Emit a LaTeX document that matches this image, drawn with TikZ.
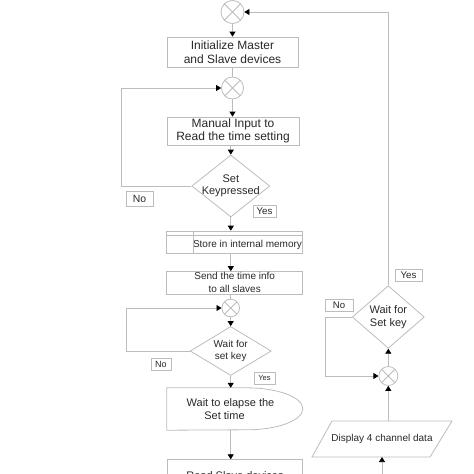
\documentclass[tikz,border=0pt]{standalone}
\usepackage{fontspec}
\setmainfont{Liberation Sans}
\usetikzlibrary{arrows.meta,shapes.geometric}
\definecolor{lc}{RGB}{188,188,188}
\definecolor{tc}{RGB}{40,40,40}
\begin{document}
\begin{tikzpicture}[x=1pt,y=-1pt,
  line/.style={draw=lc,line width=0.8pt},
  arr/.style={draw=lc,line width=0.8pt,-{Triangle[width=6pt,length=5pt,color=black]}},
  box/.style={draw=lc,line width=0.8pt,rectangle,inner sep=0pt,text=tc,align=center},
  xcirc/.style={circle,draw=lc,line width=0.8pt,inner sep=0pt,
    path picture={\draw[lc,line width=0.8pt] (path picture bounding box.south west)--(path picture bounding box.north east) (path picture bounding box.north west)--(path picture bounding box.south east);}},
  dia/.style={diamond,draw=lc,line width=0.8pt,inner sep=0pt},
  lab/.style={draw=lc,line width=0.6pt,inner sep=0pt,text=tc},
  dtext/.style={align=center,text=tc,inner sep=0pt}
]
\useasboundingbox (0,0) rectangle (474,474);
\clip (0,0) rectangle (474,474);

% left column
\node[xcirc,minimum size=23] (c1) at (232.5,12) {};
\node[box,minimum width=131,minimum height=30,font=\fontsize{12}{14}\selectfont] (init) at (232.5,52) {Initialize Master\\and Slave devices};
\node[xcirc,minimum size=22] (c2) at (232.5,88) {};
\node[box,minimum width=132,minimum height=28,font=\fontsize{12}{13.5}\selectfont] (manual) at (233,131) {Manual Input to\\Read the time setting};
\node[dia,minimum width=78,minimum height=62,
  label={[dtext,font=\fontsize{11}{12}\selectfont]center:Set\\Keypressed}] (d1) at (230.8,186) {};
\node[box,minimum width=136,minimum height=22.3,
  label={[dtext,font=\fontsize{10}{12}\selectfont,xshift=12.8pt,yshift=-2.3pt]center:Store in internal memory}] (store) at (234.7,242.2) {};
\draw[line] ([yshift=-4.7pt]store.north west) -- ([yshift=-4.7pt]store.north east);
\draw[line] ([xshift=26.6pt]store.north west) -- ([xshift=26.6pt]store.south west);
\node[box,minimum width=136,minimum height=22.7,font=\fontsize{10}{13}\selectfont] (send) at (234.7,282.9) {Send the time info\\to all slaves};
\node[xcirc,minimum size=17.6] (c3) at (230.7,308) {};
\node[dia,minimum width=81,minimum height=49,
  label={[dtext,font=\fontsize{10}{12.4}\selectfont]center:Wait for\\set key}] (d2) at (230.7,351) {};
\node[minimum width=127,minimum height=42,inner sep=0pt,align=center,text=tc,font=\fontsize{11}{12.7}\selectfont] (wait) at (230.5,409) {Wait to elapse the\\Set time\hspace*{12pt}};
\draw[line] (wait.north west) -- ++(80,0) arc[start angle=-90,end angle=90,x radius=56,y radius=21] -- (wait.south west) -- cycle;
\node[box,minimum width=135.4,minimum height=31.4,anchor=north,font=\fontsize{11}{13}\selectfont] (read) at (235,459.3) {Read Slave devices};

% right column
\node[minimum width=100,minimum height=35.7,inner sep=0pt,text=tc,font=\fontsize{10}{12}\selectfont] (disp) at (382,439) {Display 4 channel data};
\draw[line] ([xshift=-70pt]disp.south) -- ([xshift=48pt]disp.south) -- ([xshift=70pt]disp.north) -- ([xshift=-50pt]disp.north) -- cycle;
\coordinate (dispin) at (382,480);
\node[xcirc,minimum size=19] (c4) at (388.3,376) {};
\node[dia,minimum width=72,minimum height=62.6,
  label={[dtext,font=\fontsize{11}{12.6}\selectfont]center:Wait for\\Set key}] (d3) at (388.3,317) {};

% labels
\node[lab,minimum width=27,minimum height=15,font=\fontsize{10.4}{12}\selectfont] (no1) at (139.5,198.5) {No};
\node[lab,minimum width=23,minimum height=12,font=\fontsize{9.7}{12}\selectfont] (yes1) at (264.5,211) {Yes};
\node[lab,minimum width=20,minimum height=12,font=\fontsize{9}{11}\selectfont] (no2) at (161,364) {No};
\node[lab,minimum width=21,minimum height=12,font=\fontsize{7.5}{9}\selectfont] (yes2) at (264.5,378) {Yes};
\node[lab,minimum width=28,minimum height=12.5,font=\fontsize{9.6}{11}\selectfont] (no3) at (339,305.5) {No};
\node[lab,minimum width=27,minimum height=12,font=\fontsize{9.7}{11}\selectfont] (yes3) at (408.5,275) {Yes};

% connectors
\draw[arr] (c1.south) -- (c1.south |- init.north);
\draw[line] (c2.north |- init.south) -- (c2.north);
\draw[arr] (c2.south) -- (c2.south |- manual.north);
\draw[arr] (d1.north |- manual.south) -- (d1.north);
\draw[arr] (d1.west) -- ++(-70,0) |- (c2.west);
\draw[arr] (d1.south) -- (d1.south |- store.north);
\draw[arr] (d1.south |- store.south) -- (d1.south |- send.north);
\draw[line] (c3.north |- send.south) -- (c3.north);
\draw[arr] (c3.south) -- (c3.south |- d2.north);
\draw[arr] (d2.west) -- ++(-63.5,0) |- (c3.west);
\draw[arr] (d2.south) -- (d2.south |- wait.north);
\draw[arr] (d2.south |- wait.south) -- (d2.south |- read.north);
\draw[arr] (dispin) -- (disp.south);
\draw[arr] (c4.south |- disp.north) -- (c4.south);
\draw[arr] (c4.north) -- (d3.south);
\draw[arr] (d3.west) -- ++(-27,0) |- (c4.west);
\draw[arr] (d3.north) |- (c1.east);
\end{tikzpicture}
\end{document}
